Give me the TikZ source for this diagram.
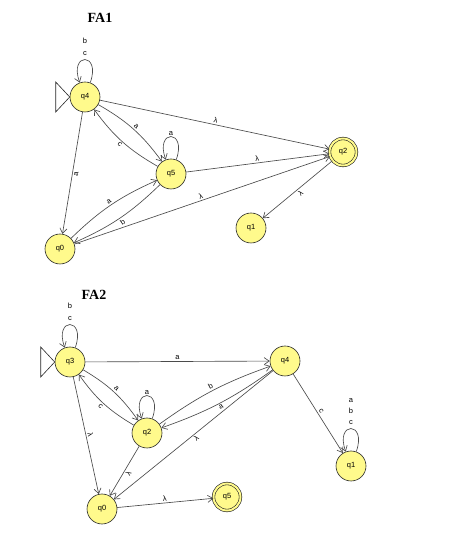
\documentclass[tikz,border=0pt]{standalone}
\usepackage{fontspec}
\setmainfont{Liberation Sans}
\newfontfamily\titlefont{Liberation Serif}
\usetikzlibrary{arrows, arrows.meta, positioning}
\definecolor{statefill}{RGB}{255,250,140}
\definecolor{edgegray}{RGB}{75,75,75}
\tikzstyle{fa-state} = [circle, draw=black!85, line width=0.6pt, fill=statefill, minimum size=30pt, inner sep=0pt, font=\fontsize{7.5}{8}\selectfont]
\tikzstyle{fa-final} = [fa-state, minimum size=27pt, double=statefill, double distance=2pt]
\tikzstyle{fa-arrow} = [-{Straight Barb[length=5pt, width=7pt]}, draw=edgegray, line width=0.65pt, font=\fontsize{7.5}{8}\selectfont]
\tikzstyle{fa-loop} = [fa-arrow, out=70, in=110, looseness=8]
\tikzstyle{fa-label} = [sloped, inner sep=1.5pt]
\tikzstyle{fa-title} = [font=\titlefont\bfseries\fontsize{14}{16}\selectfont]
\tikzstyle{fa-start} = [draw=black!85, line width=0.6pt]

\begin{document}
\begin{tikzpicture}[x=1pt, y=1pt]
  \useasboundingbox (0,0) rectangle (474,535);

  % FA1 nodes
  \node (fa1) [fa-title] at (100,517) {FA1};
  \node (a4) [fa-state] at (85,438) {q4};
  \node (a5) [fa-state] at (171,361) {q5};
  \node (a2) [fa-final] at (343,383) {q2};
  \node (a1) [fa-state] at (251,307) {q1};
  \node (a0) [fa-state] at (60,286) {q0};
  \draw[fa-start] (a4.west) -- ++(-14,15) -- ++(0,-30) -- cycle;

  % FA1 arrows with labels
  \draw[fa-loop] (a4) to node[above, align=center, font=\fontsize{7.5}{12}\selectfont] {b\\c} (a4);
  \draw[fa-loop] (a5) to node[above, inner sep=1pt] {a} (a5);
  \draw[fa-arrow] (a4) -- node[fa-label, above] {λ} (a2);
  \draw[fa-arrow] (a4) to[bend left=12] node[fa-label, above] {a} (a5);
  \draw[fa-arrow] (a5) to[bend left=12] node[fa-label, below] {c} (a4);
  \draw[fa-arrow] (a4) -- node[fa-label, below] {a} (a0);
  \draw[fa-arrow] (a5) -- node[fa-label, above] {λ} (a2);
  \draw[fa-arrow] (a0) to[bend left=10] node[fa-label, above] {a} (a5);
  \draw[fa-arrow] (a5) to[bend left=10] node[fa-label, below] {b} (a0);
  \draw[fa-arrow] (a0) -- node[fa-label, above, pos=0.5] {λ} (a2);
  \draw[fa-arrow] (a2) -- node[fa-label, below] {λ} (a1);

  % FA2 nodes
  \node (fa2) [fa-title] at (94,240) {FA2};
  \node (b3) [fa-state] at (70,173) {q3};
  \node (b4) [fa-state] at (285,174) {q4};
  \node (b2) [fa-state] at (147,102) {q2};
  \node (b1) [fa-state] at (351,69) {q1};
  \node (b0) [fa-state] at (102,26) {q0};
  \node (b5) [fa-final] at (227,38) {q5};
  \draw[fa-start] (b3.west) -- ++(-14,15) -- ++(0,-30) -- cycle;

  % FA2 arrows with labels
  \draw[fa-loop] (b3) to node[above, align=center, font=\fontsize{7.5}{12}\selectfont] {b\\c} (b3);
  \draw[fa-loop] (b2) to node[above, inner sep=1pt] {a} (b2);
  \draw[fa-loop] (b1) to node[above, align=center, font=\fontsize{7.5}{11}\selectfont] {a\\b\\c} (b1);
  \draw[fa-arrow] (b3) -- node[fa-label, above] {a} (b4);
  \draw[fa-arrow] (b3) to[bend left=12] node[fa-label, above] {a} (b2);
  \draw[fa-arrow] (b2) to[bend left=12] node[fa-label, below] {c} (b3);
  \draw[fa-arrow] (b2) to[bend left=8] node[fa-label, above] {b} (b4);
  \draw[fa-arrow] (b4) to[bend left=8] node[fa-label, below] {a} (b2);
  \draw[fa-arrow] (b4) -- node[fa-label, below] {λ} (b0);
  \draw[fa-arrow] (b4) -- node[fa-label, above] {c} (b1);
  \draw[fa-arrow] (b3) -- node[fa-label, above] {λ} (b0);
  \draw[fa-arrow] (b2) -- node[fa-label, below] {λ} (b0);
  \draw[fa-arrow] (b0) -- node[fa-label, above] {λ} (b5);

\end{tikzpicture}
\end{document}
